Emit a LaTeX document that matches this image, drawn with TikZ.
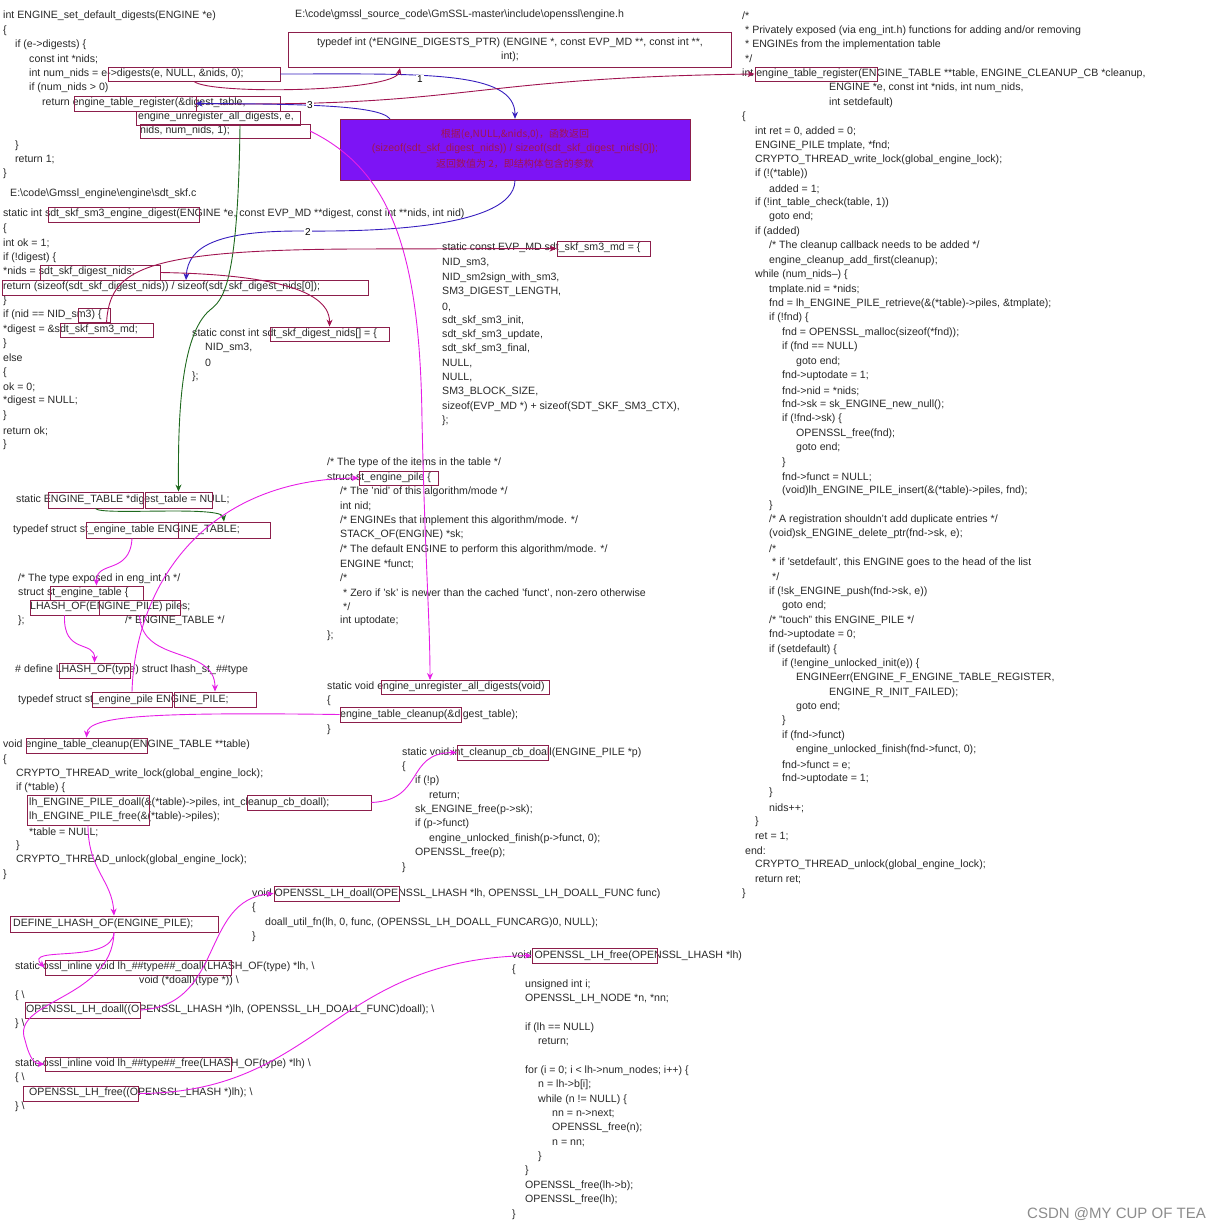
\documentclass[tikz,border=0pt]{standalone}
\usepackage{fontspec}
\setmainfont{Liberation Sans}
\newfontfamily\cjk{Noto Sans CJK SC}
\usetikzlibrary{arrows.meta,fit}
\definecolor{boxc}{RGB}{140,30,75}
\definecolor{mag}{RGB}{230,30,230}
\definecolor{blu}{RGB}{55,30,190}
\definecolor{grn}{RGB}{30,105,30}
\definecolor{dred}{RGB}{160,20,80}
\definecolor{purp}{RGB}{125,20,245}
\definecolor{txtc}{RGB}{40,40,40}
\newcommand\tl[3]{\node[txt] (t#1x#2) at (#1,#2) {#3};}
\newcommand\bx[5]{\path (#2,#3) coordinate (#1a) (#4,#5) coordinate (#1b); \node[box,fit=(#1a)(#1b)] (#1) {};}
\catcode`\_=12
\begin{document}
\begin{tikzpicture}[x=1pt,y=-1pt,
  txt/.style={anchor=west,inner sep=0pt,font=\fontsize{10.6}{12}\selectfont,text=txtc},
  box/.style={draw=boxc,line width=0.9pt,inner sep=0pt},
  con/.style={line width=0.9pt,-{Stealth[length=7pt,width=6pt]}},
  lab/.style={fill=white,inner sep=1pt,font=\fontsize{10}{12}\selectfont}]
\useasboundingbox (0,0) rectangle (1221,1231);
% block 1
\tl{3}{16}{int ENGINE_set_default_digests(ENGINE *e)}
\tl{3}{31}{\{}
\tl{15}{45}{if (e->digests) \{}
\tl{29}{59}{const int *nids;}
\tl{29}{74}{int num_nids = e->digests(e, NULL, \&nids, 0);}
\tl{29}{88}{if (num_nids > 0)}
\tl{42}{103}{return engine_table_register(\&digest_table,}
\tl{138}{117}{engine_unregister_all_digests, e,}
\tl{140}{131}{nids, num_nids, 1);}
\tl{15}{146}{\}}
\tl{15}{160}{return 1;}
\tl{3}{174}{\}}
\bx{edig}{108}{67}{280}{81}
\bx{etrc}{74}{96}{196}{111}
\bx{dtab}{196}{96}{280}{111}
\bx{unr}{136}{111}{300}{125}
\bx{nnb}{140}{124}{310}{138}
\tl{295}{15}{E:\textbackslash code\textbackslash gmssl_source_code\textbackslash GmSSL-master\textbackslash include\textbackslash openssl\textbackslash engine.h}
\bx{tdef}{288}{32}{731}{67}
\node[txt,anchor=center] (tdl1) at (510,43) {typedef int (*ENGINE_DIGESTS_PTR) (ENGINE *, const EVP_MD **, const int **,};
\node[txt,anchor=center] (tdl2) at (510,57) {int);};
\node[draw=boxc,fill=purp,minimum width=350pt,minimum height=61pt,inner sep=0pt] (pur) at (515,149.5) {};
\node[txt,anchor=center,text=dred,font=\cjk\fontsize{10}{12}\selectfont] (p1) at (515,134) {根据(e,NULL,\&nids,0)，函数返回};
\node[txt,anchor=center,text=dred] (p2) at (515,149) {(sizeof(sdt_skf_digest_nids)) / sizeof(sdt_skf_digest_nids[0]);};
\node[txt,anchor=center,text=dred,font=\cjk\fontsize{10}{12}\selectfont] (p3) at (515,164) {返回数值为 2，即结构体包含的参数};
% block 2
\tl{10}{194}{E:\textbackslash code\textbackslash Gmssl_engine\textbackslash engine\textbackslash sdt_skf.c}
\tl{3}{214}{static int sdt_skf_sm3_engine_digest(ENGINE *e, const EVP_MD **digest, const int **nids, int nid)}
\tl{3}{229}{\{}
\tl{3}{243}{int ok = 1;}
\tl{3}{258}{if (!digest) \{}
\tl{3}{272}{*nids = sdt_skf_digest_nids;}
\tl{3}{287}{return (sizeof(sdt_skf_digest_nids)) / sizeof(sdt_skf_digest_nids[0]);}
\tl{3}{301}{\}}
\tl{3}{315}{if (nid == NID_sm3) \{}
\tl{3}{330}{*digest = \&sdt_skf_sm3_md;}
\tl{3}{344}{\}}
\tl{3}{358}{else}
\tl{3}{373}{\{}
\tl{3}{387}{ok = 0;}
\tl{3}{401}{*digest = NULL;}
\tl{3}{416}{\}}
\tl{3}{431}{return ok;}
\tl{3}{445}{\}}
\bx{sed}{48}{207}{199}{222}
\bx{nidsb}{40}{265}{160}{280}
\bx{ret}{2}{280}{368}{295}
\bx{nsm}{78}{308}{110}{322}
\bx{sm3b}{60}{323}{153}{337}
\tl{192}{334}{static const int sdt_skf_digest_nids[] = \{}
\tl{205}{348}{NID_sm3,}
\tl{205}{363}{0}
\tl{192}{377}{\};}
\bx{nidsarr}{270}{327}{389}{341}
\tl{442}{248}{static const EVP_MD sdt_skf_sm3_md = \{}
\tl{442}{263}{NID_sm3,}
\tl{442}{278}{NID_sm2sign_with_sm3,}
\tl{442}{292}{SM3_DIGEST_LENGTH,}
\tl{442}{307}{0,}
\tl{442}{321}{sdt_skf_sm3_init,}
\tl{442}{335}{sdt_skf_sm3_update,}
\tl{442}{349}{sdt_skf_sm3_final,}
\tl{442}{364}{NULL,}
\tl{442}{378}{NULL,}
\tl{442}{392}{SM3_BLOCK_SIZE,}
\tl{442}{407}{sizeof(EVP_MD *) + sizeof(SDT_SKF_SM3_CTX),}
\tl{442}{421}{\};}
\bx{sm3md}{557}{241}{650}{256}
% right block
\tl{742}{16}{/*}
\tl{745}{31}{* Privately exposed (via eng_int.h) functions for adding and/or removing}
\tl{745}{45}{* ENGINEs from the implementation table}
\tl{745}{59}{*/}
\tl{742}{74}{int engine_table_register(ENGINE_TABLE **table, ENGINE_CLEANUP_CB *cleanup,}
\bx{etrd}{755}{67}{877}{81}
\tl{829}{88}{ENGINE *e, const int *nids, int num_nids,}
\tl{829}{103}{int setdefault)}
\tl{742}{117}{\{}
\tl{755}{131}{int ret = 0, added = 0;}
\tl{755}{146}{ENGINE_PILE tmplate, *fnd;}
\tl{755}{160}{CRYPTO_THREAD_write_lock(global_engine_lock);}
\tl{755}{174}{if (!(*table))}
\tl{769}{189}{added = 1;}
\tl{755}{203}{if (!int_table_check(table, 1))}
\tl{769}{217}{goto end;}
\tl{755}{232}{if (added)}
\tl{769}{246}{/* The cleanup callback needs to be added */}
\tl{769}{261}{engine_cleanup_add_first(cleanup);}
\tl{755}{275}{while (num_nids--) \{}
\tl{769}{290}{tmplate.nid = *nids;}
\tl{769}{304}{fnd = lh_ENGINE_PILE_retrieve(\&(*table)->piles, \&tmplate);}
\tl{769}{318}{if (!fnd) \{}
\tl{782}{333}{fnd = OPENSSL_malloc(sizeof(*fnd));}
\tl{782}{347}{if (fnd == NULL)}
\tl{796}{362}{goto end;}
\tl{782}{376}{fnd->uptodate = 1;}
\tl{782}{391}{fnd->nid = *nids;}
\tl{782}{405}{fnd->sk = sk_ENGINE_new_null();}
\tl{782}{419}{if (!fnd->sk) \{}
\tl{796}{434}{OPENSSL_free(fnd);}
\tl{796}{448}{goto end;}
\tl{782}{463}{\}}
\tl{782}{477}{fnd->funct = NULL;}
\tl{782}{491}{(void)lh_ENGINE_PILE_insert(\&(*table)->piles, fnd);}
\tl{769}{506}{\}}
\tl{769}{520}{/* A registration shouldn't add duplicate entries */}
\tl{769}{534}{(void)sk_ENGINE_delete_ptr(fnd->sk, e);}
\tl{769}{549}{/*}
\tl{772}{563}{* if 'setdefault', this ENGINE goes to the head of the list}
\tl{772}{577}{*/}
\tl{769}{592}{if (!sk_ENGINE_push(fnd->sk, e))}
\tl{782}{606}{goto end;}
\tl{769}{621}{/* "touch" this ENGINE_PILE */}
\tl{769}{635}{fnd->uptodate = 0;}
\tl{769}{650}{if (setdefault) \{}
\tl{782}{664}{if (!engine_unlocked_init(e)) \{}
\tl{796}{678}{ENGINEerr(ENGINE_F_ENGINE_TABLE_REGISTER,}
\tl{829}{693}{ENGINE_R_INIT_FAILED);}
\tl{796}{707}{goto end;}
\tl{782}{721}{\}}
\tl{782}{736}{if (fnd->funct)}
\tl{796}{750}{engine_unlocked_finish(fnd->funct, 0);}
\tl{782}{765}{fnd->funct = e;}
\tl{782}{779}{fnd->uptodate = 1;}
\tl{769}{793}{\}}
\tl{769}{808}{nids++;}
\tl{755}{822}{\}}
\tl{755}{837}{ret = 1;}
\tl{745}{851}{end:}
\tl{755}{865}{CRYPTO_THREAD_unlock(global_engine_lock);}
\tl{755}{880}{return ret;}
\tl{742}{894}{\}}
% st_engine_pile
\tl{327}{463}{/* The type of the items in the table */}
\tl{327}{478}{struct st_engine_pile \{}
\bx{sp1}{359}{471}{438}{485}
\tl{340}{492}{/* The 'nid' of this algorithm/mode */}
\tl{340}{506}{int nid;}
\tl{340}{521}{/* ENGINEs that implement this algorithm/mode. */}
\tl{340}{535}{STACK_OF(ENGINE) *sk;}
\tl{340}{550}{/* The default ENGINE to perform this algorithm/mode. */}
\tl{340}{564}{ENGINE *funct;}
\tl{340}{578}{/*}
\tl{343}{593}{* Zero if 'sk' is newer than the cached 'funct', non-zero otherwise}
\tl{343}{607}{*/}
\tl{340}{621}{int uptodate;}
\tl{327}{636}{\};}
% left block 2
\tl{16}{500}{static ENGINE_TABLE *digest_table = NULL;}
\bx{et1}{48}{492}{143}{508}
\bx{dtb}{145}{492}{212}{508}
\tl{13}{530}{typedef struct st_engine_table ENGINE_TABLE;}
\bx{ste2}{86}{522}{178}{538}
\bx{et2}{178}{522}{270}{538}
\tl{18}{579}{/* The type exposed in eng_int.h */}
\tl{18}{593}{struct st_engine_table \{}
\bx{ste3}{50}{586}{143}{600}
\tl{30}{607}{LHASH_OF(ENGINE_PILE) piles;}
\bx{lh1}{30}{600}{99}{615}
\bx{ep1}{99}{600}{180}{615}
\tl{18}{621}{\};}
\tl{125}{621}{/* ENGINE_TABLE */}
\tl{15}{670}{\# define LHASH_OF(type) struct lhash_st_\#\#type}
\bx{lhd}{59}{663}{130}{678}
\tl{18}{700}{typedef struct st_engine_pile ENGINE_PILE;}
\bx{sp2}{92}{692}{172}{707}
\bx{ep2}{174}{692}{256}{707}
\tl{327}{687}{static void engine_unregister_all_digests(void)}
\bx{unrd}{381}{680}{549}{694}
\tl{327}{701}{\{}
\tl{340}{715}{engine_table_cleanup(\&digest_table);}
\bx{etcc}{340}{707}{461}{722}
\tl{327}{730}{\}}
% cleanup
\tl{3}{745}{void engine_table_cleanup(ENGINE_TABLE **table)}
\bx{etcd}{26}{738}{147}{753}
\tl{3}{760}{\{}
\tl{16}{774}{CRYPTO_THREAD_write_lock(global_engine_lock);}
\tl{16}{788}{if (*table) \{}
\tl{29}{803}{lh_ENGINE_PILE_doall(\&(*table)->piles, int_cleanup_cb_doall);}
\tl{29}{817}{lh_ENGINE_PILE_free(\&(*table)->piles);}
\tl{29}{832}{*table = NULL;}
\tl{16}{846}{\}}
\tl{16}{860}{CRYPTO_THREAD_unlock(global_engine_lock);}
\tl{3}{875}{\}}
\bx{lhb}{27}{795}{149}{825}
\bx{icc}{247}{795}{371}{810}
\tl{402}{753}{static void int_cleanup_cb_doall(ENGINE_PILE *p)}
\bx{icd}{457}{745}{548}{760}
\tl{402}{767}{\{}
\tl{415}{781}{if (!p)}
\tl{429}{796}{return;}
\tl{415}{810}{sk_ENGINE_free(p->sk);}
\tl{415}{824}{if (p->funct)}
\tl{429}{839}{engine_unlocked_finish(p->funct, 0);}
\tl{415}{853}{OPENSSL_free(p);}
\tl{402}{868}{\}}
\tl{13}{924}{DEFINE_LHASH_OF(ENGINE_PILE);}
\bx{dlh}{10}{916}{218}{932}
\tl{252}{894}{void OPENSSL_LH_doall(OPENSSL_LHASH *lh, OPENSSL_LH_DOALL_FUNC func)}
\bx{oldd}{274}{886}{399}{901}
\tl{252}{908}{\{}
\tl{265}{923}{doall_util_fn(lh, 0, func, (OPENSSL_LH_DOALL_FUNCARG)0, NULL);}
\tl{252}{937}{\}}
\tl{15}{967}{static ossl_inline void lh_\#\#type\#\#_doall(LHASH_OF(type) *lh, \textbackslash}
\bx{lhdo}{45}{960}{231}{975}
\tl{139}{981}{void (*doall)(type *)) \textbackslash}
\tl{15}{996}{\{ \textbackslash}
\tl{26}{1010}{OPENSSL_LH_doall((OPENSSL_LHASH *)lh, (OPENSSL_LH_DOALL_FUNC)doall); \textbackslash}
\bx{old}{25}{1002}{140}{1018}
\tl{15}{1024}{\} \textbackslash}
\tl{15}{1064}{static ossl_inline void lh_\#\#type\#\#_free(LHASH_OF(type) *lh) \textbackslash}
\bx{lhfr}{45}{1057}{231}{1071}
\tl{15}{1078}{\{ \textbackslash}
\tl{29}{1093}{OPENSSL_LH_free((OPENSSL_LHASH *)lh); \textbackslash}
\bx{olf}{23}{1086}{138}{1101}
\tl{15}{1107}{\} \textbackslash}
\tl{512}{956}{void OPENSSL_LH_free(OPENSSL_LHASH *lh)}
\bx{olfd}{532}{948}{657}{963}
\tl{512}{970}{\{}
\tl{525}{985}{unsigned int i;}
\tl{525}{999}{OPENSSL_LH_NODE *n, *nn;}
\tl{525}{1028}{if (lh == NULL)}
\tl{538}{1042}{return;}
\tl{525}{1071}{for (i = 0; i < lh->num_nodes; i++) \{}
\tl{538}{1085}{n = lh->b[i];}
\tl{538}{1100}{while (n != NULL) \{}
\tl{552}{1114}{nn = n->next;}
\tl{552}{1128}{OPENSSL_free(n);}
\tl{552}{1143}{n = nn;}
\tl{538}{1157}{\}}
\tl{525}{1171}{\}}
\tl{525}{1186}{OPENSSL_free(lh->b);}
\tl{525}{1200}{OPENSSL_free(lh);}
\tl{512}{1215}{\}}
\node[anchor=east,inner sep=0pt,text=black!45,font=\fontsize{15}{17}\selectfont] (wm) at (1206,1214) {CSDN @MY CUP OF TEA};
% connectors
\coordinate (tdin) at (400,68);
\coordinate (c2end) at (186,280);
\coordinate (g0) at (240,125);
\coordinate (c7s) at (310,131);
\coordinate (c7e) at (430,680);
\coordinate (p3s) at (390,119);
\draw[con,blu] (edig.east) .. controls (420,74) and (515,70) .. (pur.north);
\node[lab] (l1) at (420,79) {1};
\draw[con,dred] (edig.south) .. controls (210,95) and (395,92) .. (tdin);
\draw[con,dred] (dtab.west) .. controls (470,108) and (460,78) .. (etrd.west);
\draw[con,blu] (p3s) .. controls (380,105) and (300,104) .. (dtab.west);
\node[lab] (l3) at (310,105) {3};
\draw[con,blu] (pur.south) .. controls (515,235) and (330,231) .. (300,231) .. controls (220,231) and (188,245) .. (c2end);
\node[lab] (l2) at (308,232) {2};
\draw[con,grn] (g0) .. controls (238,290) and (222,300) .. (210,310) .. controls (180,335) and (178,420) .. (dtb.north);
\draw[con,grn] (et1.south) .. controls (100,516) and (222,505) .. (et2.north);
\draw[con,mag] (c7s) .. controls (390,170) and (420,250) .. (422,420) .. controls (425,560) and (430,620) .. (c7e);
\draw[con,dred] (sm3b.north) .. controls (110,270) and (140,250) .. (355,249) -- (sm3md.west);
\draw[con,dred] (nidsb.east) .. controls (250,274) and (330,285) .. (nidsarr.north);
\draw[con,mag] (ste2.south) .. controls (130,575) and (96,560) .. (ste3.north);
\draw[con,mag] (lh1.south) .. controls (63,655) and (95,640) .. (lhd.north);
\draw[con,mag] (ep1.south) .. controls (142,665) and (215,645) .. (ep2.north);
\draw[con,mag] (sp2.north) .. controls (135,590) and (200,480) .. (sp1.west);
\draw[con,mag] (etcc.west) .. controls (150,712) and (88,716) .. (etcd.north);
\draw[con,mag] (icc.east) .. controls (425,800) and (405,753) .. (icd.west);
\draw[con,mag] (lhb.south) .. controls (88,870) and (112,880) .. (dlh.north);
\draw[con,mag] (dlh.south) .. controls (112,965) and (22,945) .. (lhdo.west);
\draw[con,mag] (dlh.south) .. controls (112,1000) and (10,1000) .. (25,1040) .. controls (30,1060) and (35,1064) .. (lhfr.west);
\draw[con,mag] (old.east) .. controls (225,1005) and (200,900) .. (oldd.west);
\draw[con,mag] (olf.east) .. controls (320,1093) and (330,960) .. (olfd.west);
\end{tikzpicture}
\end{document}
